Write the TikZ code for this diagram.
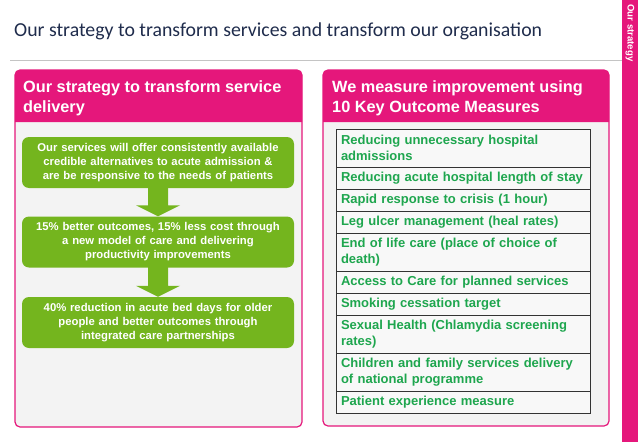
\documentclass[tikz,border=0pt]{standalone}
\usepackage{fontspec}
\setmainfont{Liberation Sans}
\newfontfamily\calibri{Carlito}
\usetikzlibrary{positioning,calc}

\definecolor{strategypink}{HTML}{E5177B}
\definecolor{boxgreen}{HTML}{74B51E}
\definecolor{measuregreen}{HTML}{1EA64E}
\definecolor{titleblue}{HTML}{1F2C4C}
\definecolor{panelgray}{HTML}{F3F3F3}
\definecolor{cellgray}{HTML}{F8F8F8}
\definecolor{rulegray}{HTML}{C4C4C4}

\tikzset{
  goal/.style={fill=boxgreen, rounded corners=7pt, text=white,
    font=\fontsize{11.3}{14}\selectfont\bfseries, align=center,
    text width=262pt, minimum height=51pt, inner sep=5pt},
  measure/.style={draw=black!80, line width=0.8pt, fill=cellgray,
    text=measuregreen, font=\fontsize{13}{16}\selectfont\bfseries,
    align=left, text width=244pt, inner xsep=5pt, inner ysep=2pt,
    minimum height=22pt, outer sep=0pt, anchor=north west},
  tallmeasure/.style={measure, minimum height=38pt},
  heading/.style={text=white, font=\fontsize{16.3}{20}\selectfont\bfseries,
    align=left, anchor=north west, inner sep=0pt},
  panel/.style={draw=strategypink, line width=1.2pt, fill=panelgray,
    rounded corners=5pt},
}

\begin{document}
\begin{tikzpicture}[x=1pt, y=-1pt]
    \useasboundingbox (0,0) rectangle (638,442);

    % title and side tab
    \node[anchor=west, inner sep=0pt, text=titleblue,
      font=\calibri\fontsize{19.8}{23}\selectfont] (title) at (14,31)
      {Our strategy to transform services and transform our organisation};
    \draw[rulegray, line width=1pt] (10,60) -- (622,60);
    \fill[strategypink] (622,0) rectangle (638,442);
    \node[rotate=-90, text=white, inner sep=0pt,
      font=\bfseries\fontsize{9.6}{11}\selectfont] (tab) at (630,33) {Our strategy};

    % left panel
    \draw[panel] (15,70) rectangle (302,427);
    \fill[strategypink] (15,122) [rounded corners=5pt] -- (15,70) -- (302,70)
      [sharp corners] -- (302,122) -- cycle;
    \node[heading] (lefthead) at (23,80) {Our strategy to transform service\\delivery};

    \node[goal] (g1) at (158,162.5) {Our services will offer consistently available\\
      credible alternatives to acute admission \&\\
      are be responsive to the needs of patients};
    \node[goal] (g2) at (158,242) {15\% better outcomes, 15\% less cost through\\
      a new model of care and delivering\\
      productivity improvements};
    \node[goal] (g3) at (158,322.5) {40\% reduction in acute bed days for older\\
      people and better outcomes through\\
      integrated care partnerships};

    \fill[boxgreen] ($(g1.south)+(-10,-1)$) |- ($(g2.north)+(-22,-11)$) -- (g2.north)
      -- ($(g2.north)+(22,-11)$) -| ($(g1.south)+(10,-1)$) -- cycle;
    \fill[boxgreen] ($(g2.south)+(-10,-1)$) |- ($(g3.north)+(-22,-11)$) -- (g3.north)
      -- ($(g3.north)+(22,-11)$) -| ($(g2.south)+(10,-1)$) -- cycle;

    % right panel
    \draw[panel] (323,70) rectangle (609,426);
    \fill[strategypink] (323,122) [rounded corners=5pt] -- (323,70) -- (609,70)
      [sharp corners] -- (609,122) -- cycle;
    \node[heading] (righthead) at (332,80) {We measure improvement using\\10 Key Outcome Measures};

    \node[tallmeasure] (m1) at (336,129) {Reducing unnecessary hospital\\admissions};
    \node[measure, below=0pt of m1] (m2) {Reducing acute hospital length of stay};
    \node[measure, below=0pt of m2] (m3) {Rapid response to crisis (1 hour)};
    \node[measure, below=0pt of m3] (m4) {Leg ulcer management (heal rates)};
    \node[tallmeasure, below=0pt of m4] (m5) {End of life care (place of choice of\\death)};
    \node[measure, below=0pt of m5] (m6) {Access to Care for planned services};
    \node[measure, below=0pt of m6] (m7) {Smoking cessation target};
    \node[tallmeasure, below=0pt of m7] (m8) {Sexual Health (Chlamydia screening\\rates)};
    \node[tallmeasure, below=0pt of m8] (m9) {Children and family services delivery\\of national programme};
    \node[measure, below=0pt of m9] (m10) {Patient experience measure};
\end{tikzpicture}
\end{document}
